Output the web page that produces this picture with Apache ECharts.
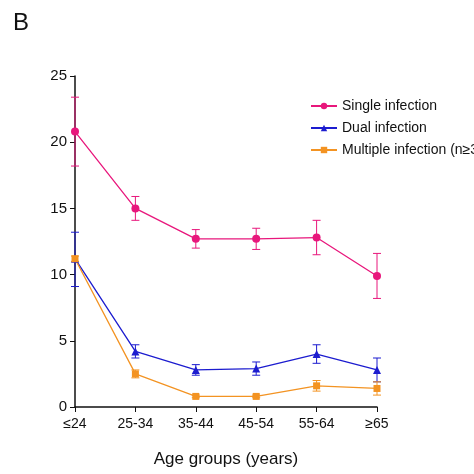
<!DOCTYPE html>
<html><head><meta charset="utf-8">
<script src="https://cdn.jsdelivr.net/npm/echarts@6/dist/echarts.min.js"></script>
<style>html,body{margin:0;padding:0}#c{width:474px;height:474px}</style>
</head><body><div id="c"></div>
<script>
const categories = ['≤24','25-34','35-44','45-54','55-64','≥65'];
const single = [20.8,15.0,12.7,12.7,12.8,9.9];
const singleLo = [18.2,14.1,12.0,11.9,11.5,8.2];
const singleHi = [23.4,15.9,13.4,13.5,14.1,11.6];
const dual = [11.2,4.2,2.8,2.9,4.0,2.8];
const dualLo = [9.1,3.7,2.4,2.4,3.3,1.9];
const dualHi = [13.2,4.7,3.2,3.4,4.7,3.7];
const multi = [11.2,2.5,0.8,0.8,1.6,1.4];
const multiLo = [11.0,2.2,0.7,0.7,1.2,0.9];
const multiHi = [11.4,2.8,0.9,0.9,2.0,1.9];
const yTicks = [0,5,10,15,20,25];

function errSeries(lo, hi, color){
  return {type:'custom', silent:true, z:1,
    data: categories.map((c,i)=>[i, lo[i], hi[i]]),
    renderItem:(p,api)=>{
      const a=api.coord([api.value(0),api.value(1)]), b=api.coord([api.value(0),api.value(2)]);
      const w=4, st={stroke:color,lineWidth:1};
      return {type:'group',children:[
        {type:'line',shape:{x1:a[0],y1:a[1],x2:b[0],y2:b[1]},style:st},
        {type:'line',shape:{x1:a[0]-w,y1:a[1],x2:a[0]+w,y2:a[1]},style:st},
        {type:'line',shape:{x1:b[0]-w,y1:b[1],x2:b[0]+w,y2:b[1]},style:st}]};
    }};
}
const cS='#e8177c', cD='#1c1ccf', cM='#f39322';
const chart = echarts.init(document.getElementById('c'));
chart.setOption({
  animation:false,
  title:{text:'B',left:8,top:6,textStyle:{fontSize:24,fontWeight:'normal',color:'#111',fontFamily:'Liberation Sans'}},
  legend:{left:305,top:94,orient:'vertical',itemGap:8,itemWidth:26,itemHeight:8,
    textStyle:{fontSize:14,color:'#111',fontFamily:'Liberation Sans'},
    data:['Single infection','Dual infection','Multiple infection (n≥3)']},
  grid:{left:75,right:97,top:76,bottom:67,containLabel:false,outerBoundsMode:'none'},
  xAxis:{type:'category',data:categories,boundaryGap:false,name:'Age groups (years)',nameLocation:'middle',nameGap:44,
    nameTextStyle:{fontSize:17,color:'#111',fontFamily:'Liberation Sans'},
    axisLine:{lineStyle:{color:'#111',width:1.5}},axisTick:{alignWithLabel:true,lineStyle:{color:'#111'}},
    axisLabel:{fontSize:14,color:'#111',fontFamily:'Liberation Sans',margin:10}},
  yAxis:{type:'value',min:0,max:25,interval:5,name:'Infection rate (%)',nameLocation:'middle',nameGap:78,
    nameTextStyle:{fontSize:17,color:'#111'},
    axisLine:{show:true,lineStyle:{color:'#111',width:1.5}},axisTick:{show:true,lineStyle:{color:'#111'}},splitLine:{show:false},
    axisLabel:{fontSize:15,color:'#111',fontFamily:'Liberation Sans'}},
  series:[
    {name:'Single infection',type:'line',data:single,symbol:'circle',symbolSize:8,color:cS,lineStyle:{width:1.3},z:3},
    {name:'Dual infection',type:'line',data:dual,symbol:'triangle',symbolSize:8,color:cD,lineStyle:{width:1.3},z:3},
    {name:'Multiple infection (n≥3)',type:'line',data:multi,symbol:'rect',symbolSize:7,color:cM,lineStyle:{width:1.3},z:3},
    errSeries(singleLo,singleHi,cS),errSeries(dualLo,dualHi,cD),errSeries(multiLo,multiHi,cM)
  ]
});
</script></body></html>
